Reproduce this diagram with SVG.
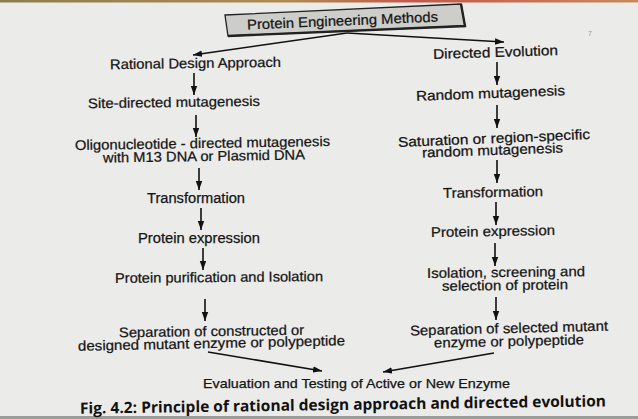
<svg xmlns="http://www.w3.org/2000/svg" width="638" height="419" viewBox="0 0 638 419">
<defs>
<linearGradient id="topStrip" x1="0" y1="0" x2="1" y2="0">
<stop offset="0" stop-color="#8c7d4f"/>
<stop offset="0.45" stop-color="#b08a52"/>
<stop offset="0.65" stop-color="#c4574a"/>
<stop offset="1" stop-color="#c98a5a"/>
</linearGradient>
<marker id="ah" markerUnits="userSpaceOnUse" markerWidth="10" markerHeight="8" refX="9" refY="4" orient="auto">
<path d="M0,0.8 L9,4 L0,7.2 Z" fill="#111"/>
</marker>
<style>
.t{font-family:"Liberation Sans",Arial,sans-serif;font-size:14px;fill:#151515;stroke:#151515;stroke-width:0.25;text-anchor:middle}
.c{stroke:#111;stroke-width:1.6;fill:none;marker-end:url(#ah)}
.cap{font-family:"Open Sans","Liberation Sans",sans-serif;font-size:15.5px;font-weight:700;fill:#111;text-anchor:middle}
</style>
</defs>
<rect x="0" y="0" width="638" height="419" fill="#ebebe9"/>
<rect x="0" y="0" width="638" height="2.5" fill="url(#topStrip)"/>
<rect x="0" y="416" width="638" height="3" fill="#9c9c9a"/>
<text x="588" y="36" font-family="Liberation Sans, sans-serif" font-size="7" fill="#9a9a9a">7</text>

<g id="title">
<polygon points="225,15 461,4 465,26 228,36" fill="#cdcdc9" stroke="#222" stroke-width="1.3"/>
<polyline points="461,4 465,26 228,36" fill="none" stroke="#222" stroke-width="2.4"/>
<text class="t" x="342.5" y="25.5" textLength="191" lengthAdjust="spacingAndGlyphs" transform="rotate(-2.4 342.5 21)">Protein Engineering Methods</text>
</g>

<g id="connectors">
<line class="c" x1="347" y1="33" x2="193" y2="55"/>
<line class="c" x1="347" y1="33" x2="504" y2="42"/>
<line class="c" x1="194" y1="73" x2="194" y2="95"/>
<line class="c" x1="196" y1="115" x2="196" y2="137"/>
<line class="c" x1="199" y1="168" x2="199" y2="190"/>
<line class="c" x1="201" y1="208" x2="201" y2="230"/>
<line class="c" x1="203" y1="248" x2="203" y2="270"/>
<line class="c" x1="205" y1="299" x2="205" y2="321"/>
<line class="c" x1="497" y1="62" x2="497" y2="85"/>
<line class="c" x1="497" y1="105" x2="497" y2="128"/>
<line class="c" x1="497" y1="160" x2="497" y2="183"/>
<line class="c" x1="496" y1="202" x2="496" y2="225"/>
<line class="c" x1="495" y1="243" x2="495" y2="266"/>
<line class="c" x1="496" y1="297" x2="496" y2="320"/>
<line class="c" x1="208" y1="352" x2="322" y2="371"/>
<line class="c" x1="494" y1="353" x2="383" y2="372"/>
</g>

<g id="rational">
<text class="t" x="195.5" y="68" textLength="171" lengthAdjust="spacingAndGlyphs" transform="rotate(-0.8 195.5 64)">Rational Design Approach</text>
</g>
<g id="site-directed">
<text class="t" x="174" y="107" textLength="172" lengthAdjust="spacingAndGlyphs" transform="rotate(-0.8 174 103)">Site-directed mutagenesis</text>
</g>
<g id="oligo">
<text class="t" x="202.5" y="148" textLength="255" lengthAdjust="spacingAndGlyphs" transform="rotate(-0.9 202.5 144)">Oligonucleotide - directed mutagenesis</text>
<text class="t" x="204" y="161" textLength="202" lengthAdjust="spacingAndGlyphs" transform="rotate(-0.9 204 157)">with M13 DNA or Plasmid DNA</text>
</g>
<g id="transformation-l">
<text class="t" x="196" y="203" textLength="98" lengthAdjust="spacingAndGlyphs">Transformation</text>
</g>
<g id="expression-l">
<text class="t" x="199" y="243" textLength="122" lengthAdjust="spacingAndGlyphs">Protein expression</text>
</g>
<g id="purification">
<text class="t" x="219" y="282" textLength="208" lengthAdjust="spacingAndGlyphs" transform="rotate(-0.5 219 278)">Protein purification and Isolation</text>
</g>
<g id="separation-l">
<text class="t" x="211.5" y="336" textLength="185" lengthAdjust="spacingAndGlyphs" transform="rotate(-0.8 211.5 332)">Separation of constructed or</text>
<text class="t" x="211.5" y="348" textLength="267" lengthAdjust="spacingAndGlyphs" transform="rotate(-1.2 211.5 344)">designed mutant enzyme or polypeptide</text>
</g>

<g id="directed">
<text class="t" x="495.5" y="57" textLength="125" lengthAdjust="spacingAndGlyphs" transform="rotate(-1.8 495.5 53)">Directed Evolution</text>
</g>
<g id="random">
<text class="t" x="490.5" y="98" textLength="149" lengthAdjust="spacingAndGlyphs" transform="rotate(-2.2 490.5 94)">Random mutagenesis</text>
</g>
<g id="saturation">
<text class="t" x="494" y="143" textLength="192" lengthAdjust="spacingAndGlyphs" transform="rotate(-2.4 494 139)">Saturation or region-specific</text>
<text class="t" x="492.5" y="155" textLength="141" lengthAdjust="spacingAndGlyphs" transform="rotate(-2 492.5 151)">random mutagenesis</text>
</g>
<g id="transformation-r">
<text class="t" x="493" y="197" textLength="100" lengthAdjust="spacingAndGlyphs" transform="rotate(-1 493 193)">Transformation</text>
</g>
<g id="expression-r">
<text class="t" x="493" y="236" textLength="124" lengthAdjust="spacingAndGlyphs" transform="rotate(-1 493 232)">Protein expression</text>
</g>
<g id="isolation">
<text class="t" x="506" y="277" textLength="158" lengthAdjust="spacingAndGlyphs" transform="rotate(-0.7 506 273)">Isolation, screening and</text>
<text class="t" x="505" y="290" textLength="126" lengthAdjust="spacingAndGlyphs" transform="rotate(-0.7 505 286)">selection of protein</text>
</g>
<g id="separation-r">
<text class="t" x="509" y="333" textLength="198" lengthAdjust="spacingAndGlyphs" transform="rotate(-1.4 509 329)">Separation of selected mutant</text>
<text class="t" x="509" y="346" textLength="150" lengthAdjust="spacingAndGlyphs" transform="rotate(-1.2 509 342)">enzyme or polypeptide</text>
</g>

<g id="evaluation">
<text class="t" x="356.5" y="388" textLength="307" lengthAdjust="spacingAndGlyphs" style="font-size:13px">Evaluation and Testing of Active or New Enzyme</text>
</g>

<text class="cap" x="343" y="410" textLength="526" lengthAdjust="spacingAndGlyphs" transform="rotate(-0.8 343 405)">Fig. 4.2: Principle of rational design approach and directed evolution</text>
</svg>
